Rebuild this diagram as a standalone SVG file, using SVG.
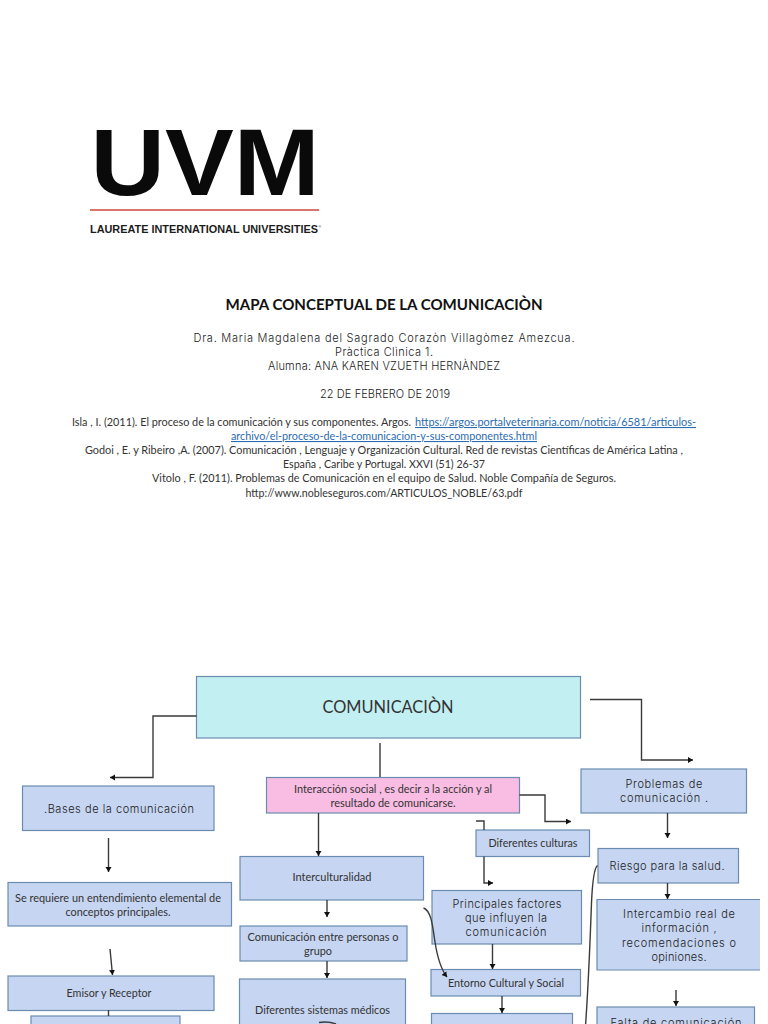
<svg xmlns="http://www.w3.org/2000/svg" width="768" height="1024" viewBox="0 0 768 1024">
<style>
.c{font-family:"Lato","Liberation Sans",sans-serif;text-anchor:middle;fill:#333}
.g{font-family:"Inter","Liberation Sans",sans-serif;font-weight:300;text-anchor:middle;fill:#222}
.b{fill:#c6d5f1;stroke:#6a8cb0;stroke-width:1.2}
.l{fill:none;stroke:#3a3a3a;stroke-width:1.4}
.a{fill:none;stroke:#3a3a3a;stroke-width:1.4;marker-end:url(#ah)}
.n{font-size:11px}
.m{font-size:11px}
.r{font-size:10.8px}
</style>
<defs><marker id="ah" markerWidth="7" markerHeight="7" refX="5" refY="3" orient="auto" markerUnits="userSpaceOnUse"><path d="M0 0L5 3L0 6Z" fill="#111"/></marker></defs>
<rect width="768" height="1024" fill="#fff"/>
<g id="logo">
<text x="205" y="195" font-family="Liberation Sans" font-weight="700" font-size="94" text-anchor="middle" textLength="229" lengthAdjust="spacingAndGlyphs" fill="#0a0a0a">UVM</text>
<rect x="90" y="209" width="229" height="2" fill="#d9766c"/>
<text x="90" y="233" font-family="Liberation Sans,sans-serif" font-weight="700" font-size="11.5" textLength="228" lengthAdjust="spacingAndGlyphs" fill="#1c1c1c">LAUREATE INTERNATIONAL UNIVERSITIES</text>
<text x="318.5" y="228" font-family="Liberation Sans,sans-serif" font-size="3.5" fill="#1c1c1c">®</text>
</g>
<g id="title">
<text x="384" y="310" font-family="Lato,Liberation Sans,sans-serif" font-weight="700" font-size="15" text-anchor="middle" textLength="317" lengthAdjust="spacingAndGlyphs" fill="#111">MAPA CONCEPTUAL DE LA COMUNICACIÒN</text>
<text class="g" x="384" y="342" font-size="11" textLength="381" lengthAdjust="spacing">Dra. Maria Magdalena del Sagrado Corazòn Villagòmez Amezcua.</text>
<text class="g" x="384" y="356" font-size="11" textLength="98" lengthAdjust="spacing">Pràctica Clìnica 1.</text>
<text class="g" x="384" y="370" font-size="11" textLength="232" lengthAdjust="spacing">Alumna: ANA KAREN VZUETH HERNÀNDEZ</text>
<text class="g" x="385" y="398" font-size="11" textLength="130" lengthAdjust="spacing">22 DE FEBRERO DE 2019</text>
</g>
<g id="refs">
<text x="72" y="426" font-family="Lato,Liberation Sans,sans-serif" font-size="10.8" fill="#333" textLength="339" lengthAdjust="spacingAndGlyphs">Isla , I. (2011). El proceso de la comunicación y sus componentes. Argos.</text>
<text x="415" y="426" font-family="Lato,Liberation Sans,sans-serif" font-size="10.8" fill="#2b6cb0" text-decoration="underline" textLength="281" lengthAdjust="spacingAndGlyphs">https://argos.portalveterinaria.com/noticia/6581/articulos-</text>
<text x="384" y="440" class="c r" style="fill:#2b6cb0;text-decoration:underline" textLength="306" lengthAdjust="spacingAndGlyphs">archivo/el-proceso-de-la-comunicacion-y-sus-componentes.html</text>
<text x="384" y="454" class="c r" textLength="598" lengthAdjust="spacingAndGlyphs">Godoi , E. y  Ribeiro ,A. (2007). Comunicación , Lenguaje y Organización Cultural. Red de revistas Científicas de América Latina ,</text>
<text x="384" y="468" class="c r" textLength="202" lengthAdjust="spacingAndGlyphs">España , Caribe y Portugal. XXVI (51) 26-37</text>
<text x="384" y="482" class="c r" textLength="464" lengthAdjust="spacingAndGlyphs">Vitolo , F. (2011). Problemas de Comunicación en el equipo de Salud. Noble Compañía de Seguros.</text>
<text x="384" y="497" class="c r" textLength="277" lengthAdjust="spacingAndGlyphs">http://www.nobleseguros.com/ARTICULOS_NOBLE/63.pdf</text>
</g>
<g id="comunicacion"><rect x="196.5" y="676.5" width="384" height="61.5" fill="#c2eff2" stroke="#6a8cb0" stroke-width="1.2"/><text class="c" x="388" y="713" font-size="16.5" textLength="131" lengthAdjust="spacingAndGlyphs">COMUNICACIÒN</text></g>
<g id="bases"><rect class="b" x="22.5" y="786" width="191.5" height="44.5"/><text class="g m" x="119" y="813" textLength="150">.Bases de la comunicación</text></g>
<g id="entendimiento"><rect class="b" x="8" y="882.5" width="223.5" height="43.5"/><text class="c n" x="118" y="901.5" textLength="206" lengthAdjust="spacingAndGlyphs">Se requiere un entendimiento elemental de</text><text class="c n" x="118" y="916" textLength="105" lengthAdjust="spacingAndGlyphs">conceptos principales.</text></g>
<g id="emisor"><rect class="b" x="8" y="976" width="206" height="34.5"/><text class="c n" x="109" y="997" textLength="85" lengthAdjust="spacingAndGlyphs">Emisor y Receptor</text></g>
<g id="abajo-izq"><rect class="b" x="31" y="1016" width="149" height="12"/></g>
<g id="interaccion"><rect x="266.5" y="777.5" width="253" height="35.5" fill="#f9bde4" stroke="#6a8cb0" stroke-width="1.2"/><text class="c n" x="393" y="792.5" textLength="198" lengthAdjust="spacingAndGlyphs">Interacción social , es decir a la acción y al</text><text class="c n" x="393" y="806.5" textLength="125" lengthAdjust="spacingAndGlyphs">resultado de comunicarse.</text></g>
<g id="interculturalidad"><rect class="b" x="240" y="856.5" width="183.5" height="43.5"/><text class="c n" x="332" y="881" textLength="79" lengthAdjust="spacingAndGlyphs">Interculturalidad</text></g>
<g id="comunicacion-personas"><rect class="b" x="240" y="926" width="167" height="35"/><text class="c n" x="323" y="940.5" textLength="151" lengthAdjust="spacingAndGlyphs">Comunicación entre personas o</text><text class="c n" x="318" y="955" textLength="28" lengthAdjust="spacingAndGlyphs">grupo</text></g>
<g id="sistemas"><rect class="b" x="239.5" y="979" width="166" height="50"/><text class="c n" x="322.5" y="1013.5" textLength="135" lengthAdjust="spacingAndGlyphs">Diferentes sistemas médicos</text></g>
<g id="culturas"><rect class="b" x="476" y="830" width="113.5" height="26.5"/><text class="c n" x="533" y="846.5" textLength="89" lengthAdjust="spacingAndGlyphs">Diferentes culturas</text></g>
<g id="factores"><rect class="b" x="432" y="890.5" width="149.5" height="53.5"/><text class="g m" x="507" y="907.5" textLength="109">Principales factores</text><text class="g m" x="506" y="922" textLength="82">que influyen la</text><text class="g m" x="506" y="936" textLength="81">comunicación</text></g>
<g id="entorno"><rect class="b" x="431" y="969.5" width="149.5" height="26.5"/><text class="c n" x="506" y="986.5" textLength="116" lengthAdjust="spacingAndGlyphs">Entorno Cultural y Social</text></g>
<g id="abajo-centro"><rect class="b" x="431.5" y="1013.5" width="141" height="15"/></g>
<g id="problemas"><rect class="b" x="581" y="769" width="165.5" height="44"/><text class="g m" x="664" y="788" textLength="77">Problemas de</text><text class="g m" x="664" y="802" textLength="88">comunicación .</text></g>
<g id="riesgo"><rect class="b" x="598" y="848.5" width="140.5" height="34.5"/><text class="g m" x="667" y="870" textLength="115">Riesgo para la salud.</text></g>
<g id="intercambio"><rect x="597" y="899.5" width="163" height="70.5" fill="#c6d5f1"/><path d="M760 899.5H597V970H760" fill="none" stroke="#6a8cb0" stroke-width="1.2"/><text class="g m" x="679" y="918" textLength="112">Intercambio real de</text><text class="g m" x="679" y="932" textLength="75">información ,</text><text class="g m" x="679" y="946.5" textLength="114">recomendaciones o</text><text class="g m" x="679" y="960.5" textLength="55">opiniones.</text></g>
<g id="falta"><rect class="b" x="597" y="1007" width="157.5" height="24"/><text class="g m" x="676" y="1027" textLength="131">Falta de comunicación</text></g>
<g id="connectors">
<path class="a" d="M196.5 716H153V777.5H110"/>
<path class="l" d="M380 743V777"/>
<path class="a" d="M590 699.5H641.5V760H693"/>
<path class="a" d="M318.5 813V856"/>
<path class="a" d="M519.5 795H545V821.5H571"/>
<path class="l" d="M476 821H484V830"/>
<path class="a" d="M484 856.5V883H493"/>
<path class="a" d="M108.5 838V872"/>
<path class="a" d="M110 949L112.5 975"/>
<path class="l" d="M108.5 1010V1016"/>
<path class="a" d="M327 900V917"/>
<path class="a" d="M327 961V978"/>
<path class="a" d="M423.5 908C432 911 433 930 435 942C437 955 440 968 447 977"/>
<path class="a" d="M492.5 944V969"/>
<path class="a" d="M502 996V1013"/>
<path class="a" d="M667.5 813V838"/>
<path class="a" d="M667.5 883V899"/>
<path class="a" d="M676 990V1006"/>
<path class="l" d="M597.5 865.5C594 868 592.5 880 591.5 903C590 945 588 990 585.5 1026"/>
<path class="l" d="M319 1022.5Q328 1021 336 1024"/>
</g>
</svg>
